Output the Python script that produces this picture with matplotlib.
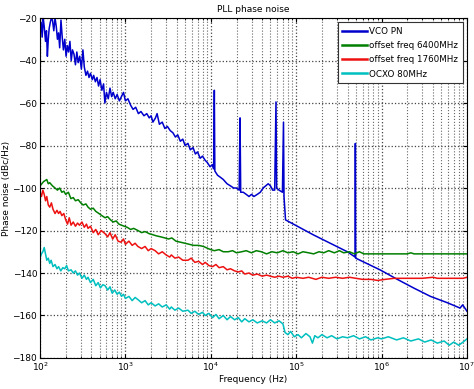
import numpy as np
import matplotlib
matplotlib.use('Agg')
import matplotlib.pyplot as plt
from matplotlib.ticker import LogLocator, FixedLocator

# --- DATA
vco_f = [100, 103, 106, 109, 112, 116, 119, 122, 125, 128, 132, 136, 140, 145, 150, 155, 160, 165,
         170, 176, 182, 188, 195, 202, 209, 216, 224, 232, 240, 250, 260, 270, 280, 292, 305, 318,
         330, 345, 360, 375, 390, 410, 425, 445, 465, 485, 505, 530, 555, 575, 600, 630, 660, 690,
         720, 760, 800, 850, 900, 950, 1000, 1070, 1150, 1230, 1320, 1420, 1520, 1650, 1780, 1900,
         2000, 2100, 2250, 2350, 2500, 2700, 2900, 3100, 3350, 3600, 3850, 4100, 4400, 4700, 5000,
         5400, 5750, 6200, 6600, 7000, 7500, 8000, 8600, 9100, 9800, 10400, 10800, 11000, 11150,
         12000, 13000, 14000, 15500, 17000, 18500, 20000, 21500, 22000, 22400, 24000, 26000, 28000,
         30000, 32000, 35000, 38000, 41000, 44000, 47000, 50000, 53000, 56000, 58000, 59000, 63000,
         69000, 71000, 72000, 75000, 103000, 158000, 250000, 397000, 490000, 493000, 497000,
         968000, 1530000, 2360000, 3730000, 5900000, 8300000, 8900000, 10000000]
vco_pn = [-27, -22, -29, -20, -24, -31, -26, -38, -30, -25, -22, -20, -21, -26, -20, -24, -30, -27,
          -34, -21, -29, -35, -30, -38, -33, -36, -31, -40, -35, -37, -42, -36, -41, -38, -44, -35,
          -43, -47, -45, -48, -46, -49, -47, -50, -48, -52, -49, -54, -51, -60, -55, -58, -53, -57,
          -55, -58, -56, -59, -57, -55, -59, -58, -61, -63, -62, -65, -64, -66, -65, -67,
          -66, -69, -67, -65, -70, -69, -72, -71, -73, -74, -76, -75, -78, -77, -80,
          -79, -82, -81, -84, -83, -86, -85, -87, -88, -90, -89, -91, -54, -92,
          -94, -95, -96, -98, -99, -100, -100, -101, -67, -102, -102, -103, -104,
          -103, -104, -103, -102, -100, -99, -98, -99, -101, -101, -59.5, -100, -101,
          -102, -69, -104, -115, -118, -122, -126, -130, -132.5, -79, -133,
          -138.6, -143, -147, -151, -154, -156.5, -155, -158]

off6400_f = [100, 105, 110, 115, 120, 125, 130, 140, 150, 160, 170, 180, 190, 200, 215, 230, 245,
             260, 280, 300, 320, 345, 365, 390, 420, 450, 490, 530, 578, 620, 670, 720, 780, 840,
             900, 970, 1050, 1150, 1250, 1400, 1550, 1700, 1900, 2100, 2300, 2600, 2900, 3200,
             3500, 3900, 4400, 5000, 5600, 6300, 7200, 8200, 9300, 10000, 11000, 12500, 14000,
             16000, 18000, 20000, 23000, 26000, 30000, 34000, 39000, 45000, 52000, 60000, 70000,
             80000, 92000, 105000, 120000, 140000, 160000, 185000, 210000, 240000, 280000, 320000,
             360000, 420000, 480000, 550000, 620000, 700000, 1000000, 1500000, 2000000, 2200000,
             2400000, 4000000, 6000000, 10000000]
off6400_pn = [-99, -98, -97, -96.5, -96, -98, -97.5, -99, -100, -101, -100, -102, -101.5, -103, -102,
              -105, -104.5, -106, -105.5, -107, -108, -107.5, -109, -110, -109.5, -111, -112, -113,
              -114, -113.5, -115, -116, -115.5, -117, -117.5, -118, -118.5, -119.5, -119, -120, -121,
              -120.5, -121.5, -122, -122.5, -123, -123.5, -124, -123.5, -125, -125.5, -126, -126.5,
              -127, -127, -127.5, -128.5, -129, -129.5, -129, -130, -130, -129.5, -130.5, -130,
              -129.5, -130.5, -129.5, -130, -131, -130, -130.5, -129.5, -130.5, -130, -131, -130,
              -130.5, -131, -130, -130.5, -129.5, -130.5, -129.5, -130.5, -130, -131, -130, -131,
              -131, -131, -131, -131, -130.5, -131, -131, -131, -131]

off1760_f = [100, 104, 108, 112, 116, 120, 125, 130, 136, 142, 150, 158, 165, 172, 180, 190, 200,
             210, 220, 231, 245, 260, 275, 290, 310, 330, 350, 365, 390, 420, 450, 480, 520, 578,
             620, 660, 710, 760, 820, 890, 950, 1000, 1100, 1200, 1300, 1400, 1550, 1700, 1850,
             2000, 2230, 2450, 2700, 3000, 3300, 3450, 3800, 4200, 4700, 5400, 5900, 6500, 7200,
             8000, 8600, 9500, 10500, 11500, 12500, 14000, 15500, 17000, 19000, 21000, 23000,
             25000, 28000, 31000, 35000, 40000, 45000, 50000, 56000, 63000, 70000, 80000, 90000,
             100000, 120000, 140000, 170000, 200000, 240000, 290000, 350000, 420000, 500000,
             600000, 750000, 900000, 1100000, 1400000, 2000000, 3000000, 4000000, 4500000,
             7000000, 9000000, 10000000]
off1760_pn = [-102, -104, -101, -103, -106, -104, -108, -109, -107, -110, -112, -110.5, -112, -111,
              -113, -112, -115, -117, -114, -117.5, -116, -118, -116.5, -117.5, -116, -118.5, -117,
              -119, -118, -121, -119.5, -122, -120, -121.5, -123, -121, -124, -122, -125, -125.5,
              -124, -126.5, -125, -127, -126, -127.5, -128.5, -127.5, -129.5, -128.5, -129.5, -131,
              -130, -131.5, -132.5, -131.5, -133, -132.5, -134, -134, -133, -135, -134.5, -136,
              -135, -136.5, -137, -136, -137.5, -137, -138.5, -138, -139, -139.5, -139, -140.5,
              -140, -141, -140.5, -141.5, -141, -141.5, -142, -141.5, -142, -141.5, -142.5, -142,
              -142.5, -142, -143, -142, -142.5, -142, -142.5, -142, -142.5, -143, -143, -143.5,
              -143, -142.5, -142.5, -142.5, -142, -142.5, -142.5, -142.5, -142]

ocxo_f = [100, 104, 108, 112, 116, 120, 125, 130, 135, 142, 150, 158, 165, 175, 185, 195, 205, 215,
          231, 245, 260, 275, 290, 310, 330, 350, 365, 390, 420, 450, 480, 510, 545, 578, 620, 660,
          700, 750, 800, 850, 900, 950, 1000, 1100, 1200, 1300, 1400, 1550, 1700, 1850, 2000, 2230,
          2450, 2700, 3000, 3300, 3450, 3800, 4200, 4700, 5400, 5900, 6500, 7200, 8000, 8600, 9500,
          10500, 11500, 12500, 14000, 15500, 17000, 19000, 21000, 23000, 25000, 28000, 31000,
          35000, 40000, 45000, 50000, 56000, 63000, 70000, 74000, 80000, 86000, 95000, 105000,
          115000, 130000, 145000, 155000, 165000, 180000, 200000, 230000, 260000, 300000, 350000,
          400000, 470000, 550000, 650000, 750000, 900000, 1000000, 1200000, 1500000, 1800000,
          2200000, 2700000, 3200000, 3800000, 4500000, 5400000, 6200000, 7000000, 8000000,
          9000000, 10000000]
ocxo_pn = [-133, -131, -130, -128, -131, -134, -133, -135.5, -134, -137, -136, -138, -137, -139,
           -137.5, -138, -136.5, -139, -138.5, -140, -139, -141, -140, -142.5, -141, -143, -142,
           -144.5, -143, -146, -144.5, -147, -145.5, -146, -148, -146.5, -149.5, -148, -150, -149,
           -151, -150, -152, -151, -153, -151.5, -152.5, -154, -153, -155, -154, -155.5, -154.5,
           -156, -155, -157, -156, -157.5, -156.5, -158, -157.5, -159, -158, -159.5, -158.5, -160,
           -159, -161, -159.5, -161.5, -160, -162, -160.5, -162, -161, -163, -161.5, -163, -162,
           -163.5, -162.5, -163.5, -162, -163.5, -162.5, -164, -168, -169, -167.5, -170, -169,
           -170.5, -168.5, -170, -173, -169.5, -170.5, -169, -170.5, -169.5, -171, -170, -170.5,
           -169.5, -171, -170, -171.5, -170.5, -171, -170, -171.5, -170.5, -172, -171, -172.5,
           -171.5, -173, -172, -174, -172.5, -174, -172.5, -171]

labels = ['VCO PN', 'offset freq 6400MHz', 'offset freq 1760MHz', 'OCXO 80MHz']
colors = ['#0000cc', '#007f00', '#ee1111', '#00bfbf']

# --- PLOT
plt.rcParams['font.family'] = ['DejaVu Sans']
fig = plt.figure(figsize=(4.74, 3.89), dpi=100)
ax = fig.add_axes([0.0844, 0.0797, 0.9008, 0.874])

series = [(vco_f, vco_pn), (off6400_f, off6400_pn), (off1760_f, off1760_pn), (ocxo_f, ocxo_pn)]
for (f, pn), lab, col in zip(series, labels, colors):
    ax.semilogx(f, pn, color=col, lw=1.1, label=lab)

ax.set_xlim(1e2, 1e7)
ax.set_ylim(-180, -20)
ax.yaxis.set_major_locator(FixedLocator(np.arange(-180, -19, 20)))
ax.xaxis.set_major_locator(LogLocator(base=10, numticks=10))
ax.xaxis.set_minor_locator(LogLocator(base=10, subs=np.arange(2, 10), numticks=20))

ax.grid(True, which='major', color='#444444', linestyle=':', linewidth=0.9)
ax.grid(True, which='minor', axis='x', color='#666666', linestyle=':', linewidth=0.8)
ax.tick_params(direction='in', labelsize=6.5, length=3, pad=2, top=True, right=True)
ax.tick_params(which='minor', direction='in', length=1.5, top=True)

ax.set_title('PLL phase noise', fontsize=6.5, pad=4)
ax.set_xlabel('Frequency (Hz)', fontsize=6.5, labelpad=1)
ax.set_ylabel('Phase noise (dBc/Hz)', fontsize=6.5, labelpad=1)

leg = ax.legend(loc='upper right', fontsize=6.3, fancybox=False, framealpha=1,
                edgecolor='#333333', handlelength=2.8, borderaxespad=0.5,
                labelspacing=0.6, handletextpad=0.3, borderpad=0.5)
leg.get_frame().set_linewidth(0.8)
for line in leg.get_lines():
    line.set_linewidth(1.8)

fig.savefig('out.png', dpi=100)
